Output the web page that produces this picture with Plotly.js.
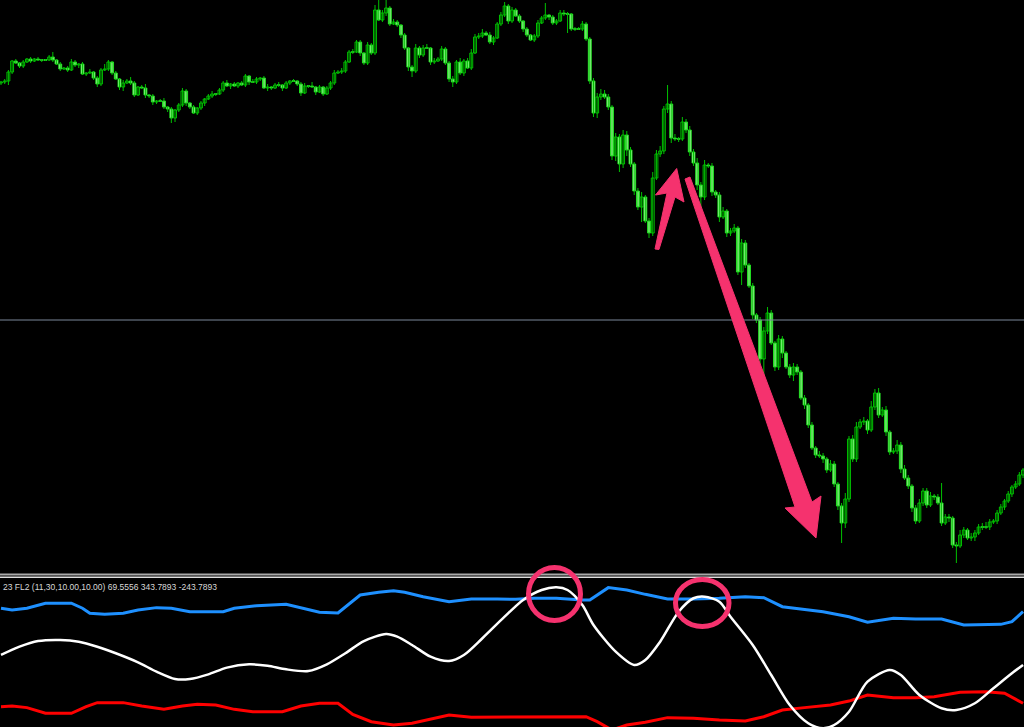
<!DOCTYPE html>
<html><head><meta charset="utf-8">
<script src="https://cdn.plot.ly/plotly-3.0.1.min.js"></script>
<style>html,body{margin:0;padding:0;background:#000;overflow:hidden}#chart{width:1024px;height:727px}</style>
</head><body><div id="chart"></div>
<script>
// ---- price candles (close values; open = previous close) ----
const firstOpen = 492;
const closes = [493,494,503,514,512,509,513,516,514,516,
515,515,515,518,515,511,506,507,505,513,
510,511,501,502,503,497,491,505,506,513,
502,496,488,492,494,492,480,488,487,480,
479,473,474,474,468,466,457,465,470,
484,472,468,462,467,472,476,479,481,481,
485,492,489,491,489,492,490,499,493,493,
496,497,487,488,487,490,490,487,492,494,
494,491,482,489,489,488,483,488,481,487,
492,502,503,504,513,523,
523,533,522,512,530,522,565,555,562,567,
551,553,550,540,527,508,504,527,520,527,
527,513,514,516,526,512,496,493,513,502,
514,507,522,538,539,542,540,533,537,551,
560,569,554,565,559,
554,546,540,535,539,552,557,560,558,552,
554,562,561,561,546,546,546,551,536,494,
462,478,481,478,468,419,438,411,440,425,
411,384,368,378,354,342,397,421,424,466,
471,437,436,436,453,445,
423,412,390,378,410,409,383,380,358,364,
342,344,347,303,332,310,289,260,255,216,
244,262,232,208,236,222,208,200,208,203,
177,170,150,127,120,119,116,105,111,91,
69,52,76,136,116,148,
153,154,145,168,182,160,165,143,123,124,
130,106,97,89,67,54,72,84,70,79,
78,72,52,58,57,30,29,40,45,37,
38,42,48,48,48,53,54,62,68,74,
81,88,91,100,105];
const wickUp = [1,2,2,1,2,1,2,1,2,1,
2,1,1,2,5,1,2,1,2,3,
2,1,2,1,3,1,2,2,5,2,
1,2,1,3,2,4,2,1,2,4,
1,2,1,2,3,1,2,1,2,3,
2,1,2,1,2,1,2,3,1,2,
2,3,1,2,1,2,2,1,3,2,
1,2,3,1,2,3,1,2,1,2,
1,2,3,1,4,1,2,1,2,2,
3,2,3,2,2,3,2,2,1,3,
2,5,10,3,8,2,3,2,1,2,
1,2,4,2,3,4,1,3,2,3,
2,2,3,2,4,2,3,4,3,3,
4,2,3,2,2,3,4,2,3,2,
2,1,2,1,2,3,2,12,1,2,
2,3,3,2,1,2,2,3,2,2,
3,4,5,4,3,2,4,3,5,4,
3,2,3,5,2,3,6,4,5,3,
19,3,4,2,5,3,4,3,5,3,
5,2,3,2,3,4,2,3,4,2,
4,3,2,3,2,3,4,6,3,2,
4,3,2,3,4,3,2,3,2,3,
2,4,3,2,4,3,2,3,6,3,
4,5,3,4,2,6,4,5,3,4,
2,3,5,3,4,3,2,3,4,3,
3,4,2,3,20,3,3,2,3,5,
3,2,4,3,3,4,5,3,2,3,
3,2,3,2,3,3,2];
const wickDown = [2,2,4,2,1,2,2,1,2,1,
1,2,1,1,2,1,2,1,2,1,
2,3,1,2,1,2,3,2,1,2,
2,1,3,4,1,2,2,1,1,3,
2,3,2,1,2,3,5,4,2,2,
3,2,1,2,2,3,1,2,2,1,
2,1,3,1,2,1,2,3,1,2,
2,1,3,2,1,2,3,1,2,1,
2,3,1,2,1,3,1,2,1,2,
2,1,2,2,1,2,1,3,2,2,
2,2,1,2,3,2,1,2,3,2,
4,6,2,3,2,1,3,2,1,2,
2,3,5,2,2,3,1,2,1,2,
2,1,2,3,1,2,2,3,2,1,
2,3,2,1,2,2,1,2,3,2,
2,1,2,19,2,2,1,2,2,3,
4,5,3,2,3,4,5,8,4,6,
3,4,3,15,2,5,3,2,3,3,
4,5,2,3,2,3,4,3,5,11,
3,2,4,3,5,2,4,3,2,3,
13,3,2,4,3,5,25,3,2,4,
3,5,2,3,6,3,2,4,3,2,
3,2,4,3,2,3,4,20,5,3,
3,3,2,3,4,2,3,3,2,4,
3,2,3,4,2,3,4,3,2,3,
3,2,3,2,3,2,4,3,17,2,
3,2,3,4,2,3,2,3,2,3,
2,3,2,3,2,2,3];
const levelLine = 255;

// ---- FL2 indicator (bar index, value) ----
const blueBars = [0,3,7,12,19,22,24,28,33,37,42,46,51,60,63,69,77,81,86,91,93,97,102,106,109,114,121,127,134,139,144,150,157,159,164,169,174,180,187,194,201,206,211,217,222,229,234,241,247,254,260,270,273,276];
const blueVals = [362,351,362,394,394,362,330,323,330,351,366,362,340,340,362,378,387,366,336,332,372,447,464,474,464,436,404,421,421,419,426,426,415,415,494,479,451,421,421,426,436,430,372,357,340,308,272,298,293,293,255,259,276,340];
const whiteBars = [0,5,10,16,21,26,31,37,42,47,51,56,61,67,72,77,83,88,93,98,104,107,111,116,121,125,130,136,141,146,150,153,157,160,166,171,174,178,183,187,190,194,197,203,208,213,218,222,225,229,234,240,243,248,254,258,263,268,273,276];
const whiteVals = [63,116,152,159,148,116,74,16,-44,-91,-91,-61,-18,3,-6,-29,-40,3,74,152,197,180,127,52,24,63,170,308,415,479,496,479,383,255,84,-1,31,148,340,426,436,404,308,127,-65,-257,-374,-406,-385,-300,-108,-33,-65,-193,-278,-289,-246,-150,-54,-1];
const redBars = [0,3,7,12,19,23,26,33,38,44,49,53,58,63,68,76,81,86,91,95,100,106,111,116,121,127,136,144,158,161,165,169,174,180,187,194,201,206,211,217,224,229,234,241,247,252,259,266,271,276];
const redVals = [-268,-264,-274,-310,-310,-268,-242,-242,-264,-285,-264,-253,-257,-285,-300,-300,-264,-246,-246,-317,-364,-385,-374,-347,-321,-336,-336,-332,-332,-364,-417,-385,-368,-338,-342,-353,-360,-332,-289,-274,-257,-232,-193,-210,-210,-204,-176,-172,-182,-246];
const indicatorLabel = "23 FL2 (11,30,10.00,10.00) 69.5556 343.7893 -243.7893";

// ---- build OHLC ----
const N = closes.length;
const xs = [], opens = [], highs = [], lows = [];
for (let i = 0; i < N; i++) {
  xs.push(i);
  const o = i === 0 ? firstOpen : closes[i-1];
  opens.push(o);
  highs.push(Math.max(o, closes[i]) + wickUp[i]);
  lows.push(Math.min(o, closes[i]) - wickDown[i]);
}
// bodies as bars, wicks as line segments
const bodyBase = [], bodyLen = [], bodyFill = [], bodyLine = [];
const wx = [], wy = [];
for (let i = 0; i < N; i++) {
  const lo = Math.min(opens[i], closes[i]), hi = Math.max(opens[i], closes[i]);
  const len = Math.max(hi - lo, 0.6);
  bodyBase.push(hi - lo < 0.6 ? lo - 0.3 : lo);
  bodyLen.push(len);
  const bull = closes[i] > opens[i];
  bodyFill.push(bull ? '#000000' : '#ccffc4');
  bodyLine.push(bull ? '#00c000' : '#1fe01f');
  wx.push(i, i, null); wy.push(lows[i], highs[i], null);
}

const W = 1024, H = 727;
const X = p => p / W;
const Y = p => 1 - p / H;
function poly(pts){ return 'M' + pts.map(p => X(p[0]).toFixed(5) + ',' + Y(p[1]).toFixed(5)).join('L') + 'Z'; }
const pink = '#f5326e';

const traces = [
  {type:'scatter', mode:'lines', x: wx, y: wy, xaxis:'x', yaxis:'y', connectgaps:false,
   line:{color:'#00c000', width:1}, hoverinfo:'skip'},
  {type:'bar', x: xs, y: bodyLen, base: bodyBase, width: 0.78, xaxis:'x', yaxis:'y',
   marker:{color: bodyFill, line:{color: bodyLine, width:1}}, hoverinfo:'skip'},
  {type:'scatter', mode:'lines', x: blueBars, y: blueVals, xaxis:'x2', yaxis:'y2',
   line:{color:'#1e90ff', width:3}, hoverinfo:'skip'},
  {type:'scatter', mode:'lines', x: redBars, y: redVals, xaxis:'x2', yaxis:'y2',
   line:{color:'#ff0000', width:3}, hoverinfo:'skip'},
  {type:'scatter', mode:'lines', x: whiteBars, y: whiteVals, xaxis:'x2', yaxis:'y2',
   line:{color:'#ffffff', width:2.5, shape:'spline', smoothing:0.8}, hoverinfo:'skip'}
];

const xr = [-0.27, 276.26];
const hidden = {visible:false, showgrid:false, zeroline:false, fixedrange:true};
const layout = {
  width: W, height: H, autosize:false,
  margin:{l:0, r:0, t:0, b:0, pad:0},
  paper_bgcolor:'#000000', plot_bgcolor:'#000000',
  showlegend:false,
  xaxis: Object.assign({range: xr, anchor:'y'}, hidden),
  yaxis: Object.assign({range:[0, 575], domain:[152/727, 1]}, hidden),
  xaxis2: Object.assign({range: xr, anchor:'y2'}, hidden),
  yaxis2: Object.assign({range:[-398, 549.2], domain:[0, 148/727]}, hidden),
  shapes: [
    {type:'line', xref:'paper', yref:'y', x0:0, x1:1, y0:levelLine, y1:levelLine, line:{color:'#7a8799', width:1}},
    {type:'line', xref:'paper', yref:'paper', x0:0, x1:1, y0:Y(574.5), y1:Y(574.5), line:{color:'#a8a8a8', width:2}},
    {type:'line', xref:'paper', yref:'paper', x0:0, x1:1, y0:Y(577.2), y1:Y(577.2), line:{color:'#dcdcdc', width:1.5}},
    {type:'circle', xref:'paper', yref:'paper', x0:X(528.5), x1:X(580.5), y0:Y(620.5), y1:Y(567.5), line:{color:pink, width:5}},
    {type:'circle', xref:'paper', yref:'paper', x0:X(675.5), x1:X(729), y0:Y(626.5), y1:Y(579.5), line:{color:pink, width:5}},
    {type:'path', xref:'paper', yref:'paper', fillcolor:pink, line:{color:pink, width:1},
     path: poly([[655,249],[659,249.5],[675,197],[684,202],[676.7,168.5],[655.5,195],[667,193]])},
    {type:'path', xref:'paper', yref:'paper', fillcolor:pink, line:{color:pink, width:1},
     path: poly([[685,179],[690,177],[812,502],[821,496],[816,538],[785,508],[795,507]])}
  ],
  annotations: [
    {xref:'paper', yref:'paper', x:X(0.5), y:Y(587), xanchor:'left', yanchor:'middle', showarrow:false,
     text: indicatorLabel, font:{family:'Liberation Sans, Arial, sans-serif', size:8.5, color:'#d8d8d8'}}
  ]
};

Plotly.newPlot('chart', traces, layout, {displayModeBar:false, staticPlot:true});
</script>
</body></html>
